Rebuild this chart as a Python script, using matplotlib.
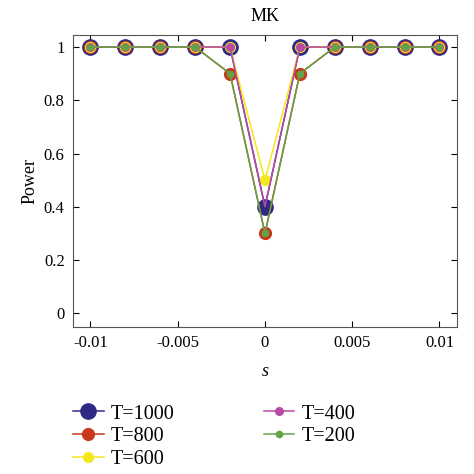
import numpy as np
import matplotlib
matplotlib.use("Agg")
import matplotlib.pyplot as plt

plt.rcParams['font.family'] = ['Liberation Serif', 'DejaVu Serif']

# shift values s
s = [-0.01, -0.008, -0.006, -0.004, -0.002, 0.0, 0.002, 0.004, 0.006, 0.008, 0.01]

# power for each sample size
power_1000 = [1, 1, 1, 1, 1, 0.4, 1, 1, 1, 1, 1]
power_800 = [1, 1, 1, 1, 0.9, 0.3, 0.9, 1, 1, 1, 1]
power_600 = [1, 1, 1, 1, 1, 0.5, 1, 1, 1, 1, 1]
power_400 = [1, 1, 1, 1, 1, 0.4, 1, 1, 1, 1, 1]
power_200 = [1, 1, 1, 1, 0.9, 0.3, 0.9, 1, 1, 1, 1]

labels = ['T=1000', 'T=800', 'T=600', 'T=400', 'T=200']
series = [power_1000, power_800, power_600, power_400, power_200]
colors = ['#2f2a85', '#c8381c', '#f5e81a', '#b84aa4', '#62a444']
sizes = [11, 8.5, 7, 5.5, 4.5]

fig = plt.figure(figsize=(4.74, 4.74), dpi=100)
ax = fig.add_axes([0.154, 0.31, 0.81, 0.616])

for i, (y, lab, c, ms) in enumerate(zip(series, labels, colors, sizes)):
    # the T=400 marker at s=0 sits under the T=1000 one in the original
    every = [k for k in range(len(s)) if not (lab == 'T=400' and s[k] == 0)]
    ax.plot(s, y, color=c, marker='o', markersize=ms, lw=1.1,
            markeredgecolor=c, markevery=every, label=lab)

ax.set_xlim(-0.011, 0.011)
ax.set_ylim(-0.052, 1.045)
ax.set_xticks([-0.01, -0.005, 0, 0.005, 0.01])
ax.set_xticklabels(['-0.01', '-0.005', '0', '0.005', '0.01'])
ax.set_yticks([0, 0.2, 0.4, 0.6, 0.8, 1])
ax.set_yticklabels(['0', '0.2', '0.4', '0.6', '0.8', '1'])
ax.tick_params(direction='in', top=True, right=True, labelsize=12, length=4, pad=6)
for sp in ax.spines.values():
    sp.set_color('#555555')
ax.set_xlabel('s', fontsize=13, style='italic', labelpad=8)
ax.set_ylabel('Power', fontsize=13)
ax.set_title('MK', fontsize=13, pad=10)

ax.legend(loc='upper left', bbox_to_anchor=(0.1165, 0.185), bbox_transform=fig.transFigure,
          ncol=2, frameon=False, fontsize=14.5, columnspacing=4.45, handlelength=1.5,
          handletextpad=0.35, labelspacing=0.18)

fig.savefig('out.png', dpi=100)
